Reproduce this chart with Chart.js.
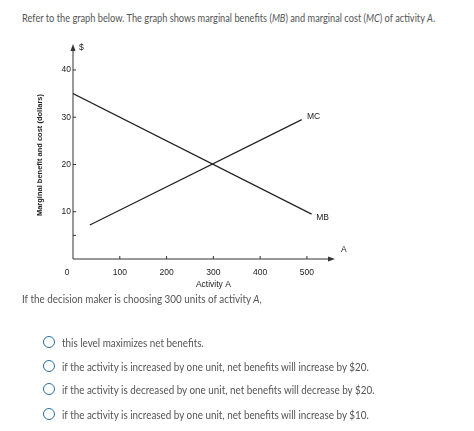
<!DOCTYPE html>
<html><head><meta charset="utf-8">
<script src="https://cdn.jsdelivr.net/npm/chart.js@4"></script>
<style>
body{margin:0;width:474px;height:431px;background:#fff;font-family:Lato,"Open Sans",sans-serif;color:#555;position:relative;overflow:hidden}
.t{position:absolute;font-size:10.5px;white-space:nowrap;transform-origin:0 0;transform:scaleX(0.94)}
.c{position:absolute;left:43px;width:10px;height:10px;border:1.8px solid #2a6ea6;border-radius:50%}
canvas{position:absolute;left:0;top:0}
</style></head><body>
<div class="t" style="left:22px;top:12px;transform:scaleX(0.88)">Refer to the graph below. The graph shows marginal benefits (<i>MB</i>) and marginal cost (<i>MC</i>) of activity <i>A</i>.</div>
<canvas id="c" width="474" height="300"></canvas>
<div class="t" style="left:22px;top:293px">If the decision maker is choosing 300 units of activity <i>A</i>,</div>
<div class="c" style="top:336px"></div><div class="t" style="left:62px;top:337px">this level maximizes net benefits.</div>
<div class="c" style="top:360px"></div><div class="t" style="left:62px;top:361px">if the activity is increased by one unit, net benefits will increase by $20.</div>
<div class="c" style="top:383px"></div><div class="t" style="left:62px;top:384px">if the activity is decreased by one unit, net benefits will decrease by $20.</div>
<div class="c" style="top:408px"></div><div class="t" style="left:62px;top:409px">if the activity is increased by one unit, net benefits will increase by $10.</div>
<script>
const mbX=[0,510], mbY=[35,9.5];
const mcX=[36,489], mcY=[7.2,29.5];
const xTicks=[100,200,300,400,500];
const yTicks=[5,10,20,30,40];
const yLabels=[10,20,30,40];
const pts=(xs,ys)=>xs.map((x,i)=>({x,y:ys[i]}));
const axes={id:'axes',afterDatasetsDraw(ch){
 const c=ch.ctx,xs=ch.scales.x,ys=ch.scales.y;
 const x0=xs.getPixelForValue(0),y0=ys.getPixelForValue(0);
 const xe=xs.getPixelForValue(560),yt=ys.getPixelForValue(45.5);
 c.save();c.strokeStyle='#333';c.fillStyle='#333';c.lineWidth=1;
 c.beginPath();c.moveTo(x0,y0);c.lineTo(xe-5,y0);c.moveTo(x0,y0);c.lineTo(x0,yt+5);c.stroke();
 c.beginPath();c.moveTo(xe,y0);c.lineTo(xe-7,y0-2.5);c.lineTo(xe-7,y0+2.5);c.fill();
 c.beginPath();c.moveTo(x0,yt);c.lineTo(x0-2.5,yt+7);c.lineTo(x0+2.5,yt+7);c.fill();
 c.font='8.5px Arial';c.fillStyle='#222';
 c.beginPath();
 xTicks.forEach(v=>{const p=xs.getPixelForValue(v);c.moveTo(p,y0);c.lineTo(p,y0-3);});
 yTicks.forEach(v=>{const p=ys.getPixelForValue(v);c.moveTo(x0,p);c.lineTo(x0+3,p);});
 c.stroke();
 c.textAlign='center';c.textBaseline='top';
 xTicks.forEach(v=>c.fillText(String(v),xs.getPixelForValue(v),y0+9));
 c.fillText('0',x0-6,y0+9);
 c.textAlign='right';c.textBaseline='middle';
 yLabels.forEach(v=>c.fillText(String(v),x0-2,ys.getPixelForValue(v)));
 c.textAlign='left';c.fillText('$',x0+6,yt+4);
 c.fillText('A',xe+6,y0-9);
 c.fillText('MC',xs.getPixelForValue(500),ys.getPixelForValue(30.2));
 c.fillText('MB',xs.getPixelForValue(520),ys.getPixelForValue(8.8));
 c.textAlign='center';c.fillText('Activity A',xs.getPixelForValue(300),y0+26);
 c.translate(40,ys.getPixelForValue(22));c.rotate(-Math.PI/2);c.font='bold 7.5px Arial';
 c.fillText('Marginal benefit and cost (dollars)',0,0);
 c.restore();}};
new Chart(document.getElementById('c'),{type:'scatter',
 data:{datasets:[
  {label:'MB',data:pts(mbX,mbY),showLine:true,borderColor:'#222',borderWidth:1.2,pointRadius:0},
  {label:'MC',data:pts(mcX,mcY),showLine:true,borderColor:'#222',borderWidth:1.2,pointRadius:0}]},
 options:{responsive:false,animation:false,
  layout:{padding:{left:73,right:139,top:44,bottom:41}},
  plugins:{legend:{display:false},tooltip:{enabled:false}},
  scales:{x:{type:'linear',min:0,max:560,display:false},y:{min:0,max:45.5,display:false}}},
 plugins:[axes]});
</script></body></html>
